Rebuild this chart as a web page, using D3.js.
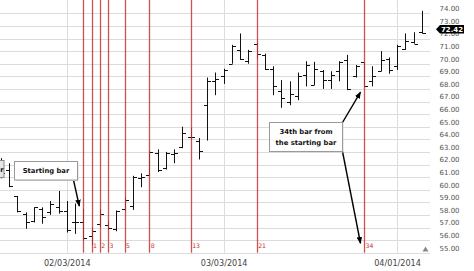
<!DOCTYPE html>
<html>
<head>
<meta charset="utf-8">
<script src="https://cdn.jsdelivr.net/npm/d3@7"></script>
<style>
  body { margin: 0; background: #fff; }
  text { font-family: "DejaVu Sans", Verdana, sans-serif; }
</style>
</head>
<body>
<div id="chart"></div>
<script>
// Trading days shown on the chart
var dates = ["01/22/2014","01/23/2014","01/24/2014","01/27/2014","01/28/2014","01/29/2014","01/30/2014","01/31/2014",
  "02/03/2014","02/04/2014","02/05/2014","02/06/2014","02/07/2014","02/10/2014","02/11/2014","02/12/2014","02/13/2014",
  "02/14/2014","02/18/2014","02/19/2014","02/20/2014","02/21/2014","02/24/2014","02/25/2014","02/26/2014","02/27/2014","02/28/2014",
  "03/03/2014","03/04/2014","03/05/2014","03/06/2014","03/07/2014","03/10/2014","03/11/2014","03/12/2014","03/13/2014","03/14/2014",
  "03/17/2014","03/18/2014","03/19/2014","03/20/2014","03/21/2014","03/24/2014","03/25/2014","03/26/2014","03/27/2014","03/28/2014",
  "03/31/2014","04/01/2014","04/02/2014","04/03/2014","04/04/2014"];

var opens = [61.8,61.6,59.5,58.1,57.5,58.5,58.2,58.6,58.3,57.4,
  57.45,56.3,57.3,57.2,56.9,58.5,58.7,60.9,61.2,62.9,61.7,62.8,63.4,64.2,63.9,66.7,68.6,
  69.0,70.0,71.1,70.2,71.6,70.7,69.6,67.8,67.0,67.4,69.1,68.3,69.45,68.7,69.4,70.3,69.0,70.1,68.6,69.4,70.35,69.8,71.2,71.75,72.5];
var highs = [62.5,62.1,59.5,58.2,58.6,58.6,59.1,59.9,59.1,58.9,
  58.5,57.0,58.45,57.5,58.35,59.4,61.1,61.3,63.1,63.2,63.0,63.2,65.0,64.9,64.1,68.9,69.3,
  69.6,71.5,72.4,71.1,71.7,70.8,69.8,68.7,68.6,69.3,70.2,70.15,69.5,69.4,70.2,70.7,69.9,70.1,69.8,71.0,70.5,71.5,72.4,72.5,74.2];
var lows = [60.9,60.2,58.2,56.9,57.4,57.3,58.0,58.1,56.6,56.5,
  56.0,55.6,57.0,56.8,56.7,58.3,58.4,60.2,61.1,61.4,61.6,62.1,63.3,64.0,62.4,63.9,67.5,
  68.4,70.0,70.3,70.0,70.4,69.5,67.5,66.5,66.7,67.1,68.2,68.3,68.0,68.0,68.6,67.9,68.9,68.1,68.2,69.4,69.2,69.5,71.1,71.6,72.4];
var closes = [61.3,60.3,58.3,57.4,58.6,57.8,58.9,58.3,56.8,57.4,
  56.2,56.7,58.1,57.0,58.3,59.2,61.0,61.0,63.0,61.6,62.9,62.9,64.5,64.15,63.1,68.6,68.8,
  69.5,71.4,70.4,71.0,70.8,69.6,68.2,67.3,67.6,69.0,69.9,69.6,68.7,69.1,70.1,68.0,69.8,68.2,69.0,70.3,69.5,71.4,71.8,71.6,72.42];

var yTicks = d3.range(55, 75, 1);
var xTickLabels = ["02/03/2014", "03/03/2014", "04/01/2014"];
var startDate = "02/05/2014";
var fibCounts = [0, 1, 2, 3, 5, 8, 13, 21, 34];
var lastPrice = 72.42;

var bars = dates.map(function(d, i) {
    return { date: d, open: opens[i], high: highs[i], low: lows[i], close: closes[i] };
});

var width = 474, height = 271;
var plotRight = 430, plotBottom = 252.7;

var svg = d3.select("#chart").append("svg")
    .attr("width", width)
    .attr("height", height);

var xScale = d3.scalePoint()
    .domain(dates)
    .range([0.74, 421.8]);

var yScale = d3.scaleLinear()
    .domain([55, 74])
    .range([plotBottom, 13.3]);

function px(v) { return Math.round(v) + 0.5; }

// Grid
svg.append("g").selectAll("line")
    .data(yTicks)
  .enter().append("line")
    .attr("x1", 0).attr("x2", plotRight)
    .attr("y1", function(d) { return px(yScale(d)); })
    .attr("y2", function(d) { return px(yScale(d)); })
    .attr("stroke", "#dcdcdc");

svg.append("g").selectAll("line")
    .data(xTickLabels)
  .enter().append("line")
    .attr("x1", function(d) { return px(xScale(d)); })
    .attr("x2", function(d) { return px(xScale(d)); })
    .attr("y1", 0).attr("y2", plotBottom)
    .attr("stroke", "#dcdcdc");

// OHLC bars
var bar = svg.append("g").attr("stroke", "#111").attr("stroke-width", 1)
    .selectAll("g")
    .data(bars)
  .enter().append("g");

bar.append("line")
    .attr("x1", function(d) { return px(xScale(d.date)); })
    .attr("x2", function(d) { return px(xScale(d.date)); })
    .attr("y1", function(d) { return yScale(d.high); })
    .attr("y2", function(d) { return yScale(d.low); });
bar.append("line")
    .attr("x1", function(d) { return px(xScale(d.date)) - 3.5; })
    .attr("x2", function(d) { return px(xScale(d.date)); })
    .attr("y1", function(d) { return px(yScale(d.open)); })
    .attr("y2", function(d) { return px(yScale(d.open)); });
bar.append("line")
    .attr("x1", function(d) { return px(xScale(d.date)); })
    .attr("x2", function(d) { return px(xScale(d.date)) + 3.5; })
    .attr("y1", function(d) { return px(yScale(d.close)); })
    .attr("y2", function(d) { return px(yScale(d.close)); });

// Fibonacci time zones
var startIndex = dates.indexOf(startDate);
var zones = fibCounts.map(function(n) { return { n: n, date: dates[startIndex + n] }; });

svg.append("g").selectAll("line")
    .data(zones)
  .enter().append("line")
    .attr("x1", function(d) { return px(xScale(d.date)); })
    .attr("x2", function(d) { return px(xScale(d.date)); })
    .attr("y1", 0).attr("y2", plotBottom)
    .attr("stroke", "#c83232")
    .attr("stroke-opacity", 0.85)
    .attr("stroke-width", 1.3);

svg.append("g").selectAll("text")
    .data(zones.filter(function(d) { return d.n > 0; }))
  .enter().append("text")
    .attr("x", function(d) { return xScale(d.date) + 1.5; })
    .attr("y", 248)
    .attr("font-size", 6.2)
    .attr("fill", "#c83232")
    .text(function(d) { return d.n; });

// Axes
var yAxis = d3.axisRight(yScale)
    .tickValues(yTicks)
    .tickFormat(d3.format(".2f"))
    .tickSize(0).tickPadding(0);
var gy = svg.append("g")
    .attr("transform", "translate(439.5,0)")
    .call(yAxis);
gy.select(".domain").remove();
gy.selectAll("text")
    .attr("dy", null).attr("y", -2.6)
    .attr("font-family", "DejaVu Sans, Verdana, sans-serif")
    .attr("font-size", 7)
    .attr("fill", "#555");

var xAxis = d3.axisBottom(xScale)
    .tickValues(xTickLabels)
    .tickSize(0);
var gx = svg.append("g")
    .attr("transform", "translate(0," + plotBottom + ")")
    .call(xAxis);
gx.select(".domain").remove();
gx.selectAll("text")
    .attr("dy", null).attr("y", 13.3)
    .attr("font-family", "DejaVu Sans, Verdana, sans-serif")
    .attr("font-size", 8.1)
    .attr("fill", "#444");

// Last price tag
var tagY = yScale(lastPrice) - 4;
svg.append("path")
    .attr("d", "M436," + tagY + "L440," + (tagY - 4.3) + "H464V" + (tagY + 4.3) + "H440Z")
    .attr("fill", "#000");
svg.append("text")
    .attr("x", 452).attr("y", tagY + 2.6)
    .attr("text-anchor", "middle")
    .attr("font-size", 7)
    .attr("font-weight", "bold")
    .attr("fill", "#fff")
    .text(d3.format(".2f")(lastPrice));

// Small marker at bottom right
svg.append("path")
    .attr("d", "M422.5,251.5L425.5,246.5L428.5,251.5Z")
    .attr("fill", "#888");

// Cut-off annotation at left edge
svg.append("rect")
    .attr("x", -20).attr("y", 160.5).attr("width", 24).attr("height", 17)
    .attr("fill", "#e6e6e6").attr("stroke", "#888");
svg.append("text")
    .attr("x", 3.5).attr("y", 171.5).attr("text-anchor", "end")
    .attr("font-size", 6.8).attr("font-weight", "bold").attr("fill", "#111")
    .text("r");

// Arrow marker
svg.append("defs").append("marker")
    .attr("id", "head")
    .attr("viewBox", "0 0 10 10")
    .attr("refX", 9).attr("refY", 5)
    .attr("markerWidth", 5).attr("markerHeight", 5)
    .attr("orient", "auto")
  .append("path")
    .attr("d", "M0,1L10,5L0,9Z")
    .attr("fill", "#000");

function note(x, y, w, h, lines) {
    svg.append("rect")
        .attr("x", x + 1).attr("y", y + 1).attr("width", w).attr("height", h)
        .attr("fill", "#d8d8d8");
    svg.append("rect")
        .attr("x", x).attr("y", y).attr("width", w).attr("height", h)
        .attr("fill", "#fff").attr("stroke", "#9a9a9a");
    lines.forEach(function(t, i) {
        svg.append("text")
            .attr("x", x + w / 2)
            .attr("y", y + h / 2 + 2.4 + (i - (lines.length - 1) / 2) * 11)
            .attr("text-anchor", "middle")
            .attr("font-size", 6.8)
            .attr("font-weight", "bold")
            .attr("fill", "#111")
            .text(t);
    });
}

function arrow(x1, y1, x2, y2) {
    svg.append("line")
        .attr("x1", x1).attr("y1", y1).attr("x2", x2).attr("y2", y2)
        .attr("stroke", "#000").attr("stroke-width", 1.4)
        .attr("marker-end", "url(#head)");
}

var startX = xScale(startDate);
arrow(73.5, 180, startX - 4, yScale(58.7));
note(14.5, 161.5, 63, 18.5, ["Starting bar"]);

var bar34 = bars[startIndex + 34];
var x34 = xScale(bar34.date);
arrow(342.5, 122.5, x34 - 3.5, yScale(bar34.low) + 4.5);
arrow(342.5, 151.5, x34 - 3.5, yScale(55.75));
note(269.5, 122.5, 73, 29, ["34th bar from", "the starting bar"]);
</script>
</body>
</html>
